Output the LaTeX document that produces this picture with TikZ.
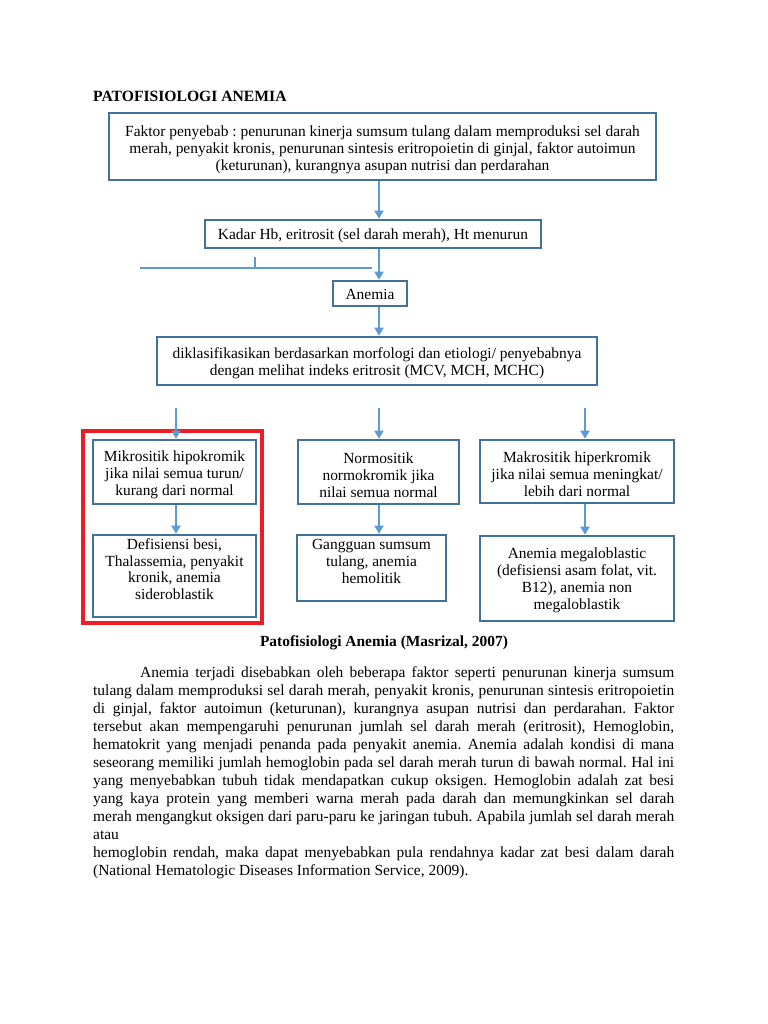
\documentclass[tikz,border=0pt]{standalone}
\usepackage{fontspec}
\setmainfont{Liberation Serif}
\usetikzlibrary{arrows.meta}
\definecolor{boxblue}{HTML}{41719C}
\definecolor{arrblue}{HTML}{5B9BD5}
\definecolor{redframe}{HTML}{EE1C24}
\frenchspacing
\begin{document}
\begin{tikzpicture}[x=1bp,y=-1bp,
  box/.style={draw=boxblue, line width=2.6bp, fill=white, inner sep=0pt},
  arr/.style={draw=arrblue, line width=2.2bp, -{Triangle[length=8bp,width=9bp]}},
  lne/.style={draw=arrblue, line width=2.2bp},
  txt/.style={inner sep=0pt, align=center, font=\fontsize{15.5}{17}\selectfont},
  para/.style={inner sep=0pt, anchor=base west, font=\fontsize{15.5}{18}\selectfont},
]
\useasboundingbox (0,0) rectangle (768,1024);
\fill[white] (0,0) rectangle (768,1024);

\node[anchor=base west, inner sep=0pt, font=\bfseries\fontsize{15.7}{17}\selectfont] (title) at (93,101) {PATOFISIOLOGI ANEMIA};

% boxes
\node[box, minimum width=547bp, minimum height=67bp] (top) at (382.5,146.5) {};
\node[box, minimum width=336bp, minimum height=28bp] (kadar) at (373,234) {};
\node[box, minimum width=74bp, minimum height=25bp] (anemia) at (370,293.5) {};
\node[box, minimum width=440bp, minimum height=48bp] (dikl) at (377,361) {};
\node[draw=redframe, line width=4.5bp, minimum width=179bp, minimum height=192bp, inner sep=0pt] (red) at (172.5,527) {};
\node[box, minimum width=163bp, minimum height=64bp] (l1) at (174.5,472) {};
\node[box, minimum width=163bp, minimum height=82bp] (l2) at (174.5,576) {};
\node[box, minimum width=161bp, minimum height=64bp] (m1) at (378.5,472) {};
\node[box, minimum width=149bp, minimum height=66bp] (m2) at (371.5,568) {};
\node[box, minimum width=194bp, minimum height=63bp] (r1) at (577,471.5) {};
\node[box, minimum width=194bp, minimum height=85bp] (r2) at (577,578.5) {};

% box texts
\node[txt, yshift=-3bp] (topt) at (top.center)
  {Faktor penyebab : penurunan kinerja sumsum tulang dalam memproduksi sel darah\\
   merah, penyakit kronis, penurunan sintesis eritropoietin di ginjal, faktor autoimun\\
   (keturunan), kurangnya asupan nutrisi dan perdarahan};
\node[txt, yshift=-2bp] (kadart) at (kadar.center) {Kadar Hb, eritrosit (sel darah merah), Ht menurun};
\node[txt, yshift=-1bp] (anemiat) at (anemia.center) {Anemia};
\node[txt, yshift=-2.5bp] (diklt) at (dikl.center)
  {diklasifikasikan berdasarkan morfologi dan etiologi/ penyebabnya\\
   dengan melihat indeks eritrosit (MCV, MCH, MCHC)};
\node[txt, yshift=-3bp] (l1t) at (l1.center)
  {Mikrositik hipokromik\\ jika nilai semua turun/\\ kurang dari normal};
\node[txt, anchor=north] (l2t) at (174.5,538)
  {Defisiensi besi,\\ Thalassemia, penyakit\\ kronik, anemia\\ sideroblastik};
\node[txt, yshift=-3bp] (m1t) at (m1.center)
  {Normositik\\ normokromik jika\\ nilai semua normal};
\node[txt, anchor=north] (m2t) at (371.5,539)
  {Gangguan sumsum\\ tulang, anemia\\ hemolitik};
\node[txt, yshift=-3bp] (r1t) at (r1.center)
  {Makrositik hiperkromik\\ jika nilai semua meningkat/\\ lebih dari normal};
\node[txt, yshift=-2bp] (r2t) at (r2.center)
  {Anemia megaloblastic\\ (defisiensi asam folat, vit.\\ B12), anemia non\\ megaloblastik};

% connectors
\coordinate (ax) at (379,0);
\draw[arr] (top.south -| ax) -- (kadar.north -| ax);
\draw[arr] (kadar.south -| ax) -- (anemia.north -| ax);
\draw[arr] (anemia.south -| ax) -- (dikl.north -| ax);
\coordinate (h1) at (140,268);
\coordinate (h2) at (372,268);
\coordinate (t1) at (255,257);
\coordinate (t2) at (255,268);
\draw[lne] (h1) -- (h2);
\draw[lne] (t1) -- (t2);

\coordinate (s1) at (176,408);
\coordinate (s2) at (379,408);
\coordinate (s3) at (585,408);
\draw[arr] (s1) -- (s1 |- l1.north);
\draw[arr] (s2) -- (s2 |- m1.north);
\draw[arr] (s3) -- (s3 |- r1.north);
\draw[arr] (s1 |- l1.south) -- (s1 |- l2.north);
\draw[arr] (s2 |- m1.south) -- (s2 |- m2.north);
\draw[arr] (s3 |- r1.south) -- (s3 |- r2.north);

\node[anchor=base, inner sep=0pt, font=\bfseries\fontsize{15.5}{17}\selectfont] (cap) at (384,646) {Patofisiologi Anemia (Masrizal, 2007)};

\node[para] (p1) at (140,677) {\makebox[534bp][s]{Anemia terjadi disebabkan oleh beberapa faktor seperti penurunan kinerja sumsum}};
\node[para] (p2) at (93,695) {\makebox[581bp][s]{tulang dalam memproduksi sel darah merah, penyakit kronis, penurunan sintesis eritropoietin}};
\node[para] (p3) at (93,713) {\makebox[581bp][s]{di ginjal, faktor autoimun (keturunan), kurangnya asupan nutrisi dan perdarahan. Faktor}};
\node[para] (p4) at (93,731) {\makebox[581bp][s]{tersebut akan mempengaruhi penurunan jumlah sel darah merah (eritrosit), Hemoglobin,}};
\node[para] (p5) at (93,749) {\makebox[581bp][s]{hematokrit yang menjadi penanda pada penyakit anemia. Anemia adalah kondisi di mana}};
\node[para] (p6) at (93,767) {\makebox[581bp][s]{seseorang memiliki jumlah hemoglobin pada sel darah merah turun di bawah normal. Hal ini}};
\node[para] (p7) at (93,785) {\makebox[581bp][s]{yang menyebabkan tubuh tidak mendapatkan cukup oksigen. Hemoglobin adalah zat besi}};
\node[para] (p8) at (93,803) {\makebox[581bp][s]{yang kaya protein yang memberi warna merah pada darah dan memungkinkan sel darah}};
\node[para] (p9) at (93,821) {\makebox[581bp][s]{merah mengangkut oksigen dari paru-paru ke jaringan tubuh. Apabila jumlah sel darah merah}};
\node[para] (p10) at (93,839) {atau};
\node[para] (p11) at (93,857) {\makebox[581bp][s]{hemoglobin rendah, maka dapat menyebabkan pula rendahnya kadar zat besi dalam darah}};
\node[para] (p12) at (93,875) {(National Hematologic Diseases Information Service, 2009).};
\end{tikzpicture}
\end{document}
